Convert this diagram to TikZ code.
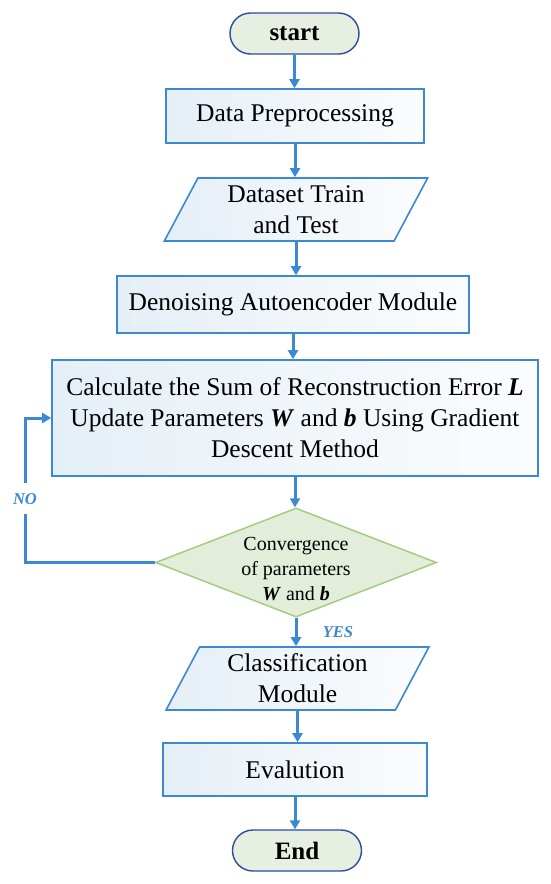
\documentclass[tikz,border=0pt]{standalone}
\usepackage{fontspec}
\setmainfont{Liberation Serif}
\usetikzlibrary{shapes.geometric,arrows.meta}
\definecolor{lineblue}{RGB}{59,137,210}
\definecolor{termborder}{RGB}{44,76,158}
\definecolor{termfill}{RGB}{230,239,226}
\definecolor{diafill}{RGB}{226,238,218}
\definecolor{diaborder}{RGB}{156,204,124}
\definecolor{boxleft}{RGB}{229,239,247}
\definecolor{boxright}{RGB}{251,252,253}
\begin{document}
\begin{tikzpicture}[x=1pt,y=-1pt,
  mainfont/.style={font=\fontsize{25.5}{31}\selectfont},
  procbox/.style={draw=lineblue,line width=1.6pt,left color=boxleft,right color=boxright,
    align=center,inner sep=0pt,mainfont},
  iobox/.style={trapezium,trapezium left angle=64,trapezium right angle=116,
    trapezium stretches=true,draw=lineblue,line width=1.6pt,left color=boxleft,right color=boxright,
    align=center,inner sep=0pt,mainfont},
  termbox/.style={draw=termborder,line width=1.4pt,fill=termfill,rounded corners=20.5pt,
    minimum width=129pt,minimum height=41pt,inner sep=0pt,font=\fontsize{25}{30}\selectfont\bfseries},
  decbox/.style={diamond,draw=diaborder,line width=1.4pt,fill=diafill,inner sep=0pt,
    minimum width=281pt,minimum height=109pt},
  arr/.style={draw=lineblue,line width=3pt,-{Triangle[length=9pt,width=10pt]}},
  lbl/.style={text=lineblue,font=\fontsize{16.5}{19}\selectfont\bfseries\itshape,inner sep=1pt}
]
\fill[white] (0,0) rectangle (550,884);
\useasboundingbox (0,0) rectangle (550,884);

\node[termbox] (start) at (294.5,33.5) {start};
\node[procbox,minimum width=258pt,minimum height=54pt] (dp) at (295,116) {Data Preprocessing};
\node[iobox,minimum width=264pt,minimum height=63pt] (ds) at (296,209.5) {Dataset Train\\and Test};
\node[procbox,minimum width=352pt,minimum height=57pt] (dae) at (293,304.5) {Denoising Autoencoder Module};
\node[procbox,minimum width=486pt,minimum height=116pt] (calc) at (295,418)
  {Calculate the Sum of Reconstruction Error \textbf{\textit{L}}\\
   Update Parameters \textbf{\textit{W}} and \textbf{\textit{b}} Using Gradient\\
   Descent Method};
\node[decbox,label={[align=center,font=\fontsize{20}{25}\selectfont,yshift=-7pt]center:Convergence\\of parameters\\\textbf{\textit{W}} and \textbf{\textit{b}}}] (dia) at (296,562.5) {};
\node[iobox,minimum width=263pt,minimum height=63pt] (cls) at (297.5,678.5) {Classification\\Module};
\node[procbox,minimum width=264pt,minimum height=53pt] (ev) at (295,769.5) {Evalution};
\node[termbox] (end) at (297,850.5) {End};

\draw[arr] (start.south) -- (start.south |- dp.north);
\draw[arr] (dp.south) -- (dp.south |- ds.north);
\draw[arr] (ds.south) -- (ds.south |- dae.north);
\draw[arr] (dae.south) -- (dae.south |- calc.north);
\draw[arr] (calc.south) -- (calc.south |- dia.north);
\draw[arr] (dia.south) -- (dia.south |- cls.north);
\draw[arr] (cls.south) -- (cls.south |- ev.north);
\draw[arr] (ev.south) -- (ev.south |- end.north);

\coordinate (fb) at (25,562.5);
\draw[arr] (dia.west) -- (fb) |- (calc.west)
  node[lbl,pos=0.22,fill=white,inner ysep=10pt] (no) {NO};
\node[lbl] (yes) at (338,632) {YES};
\end{tikzpicture}
\end{document}
